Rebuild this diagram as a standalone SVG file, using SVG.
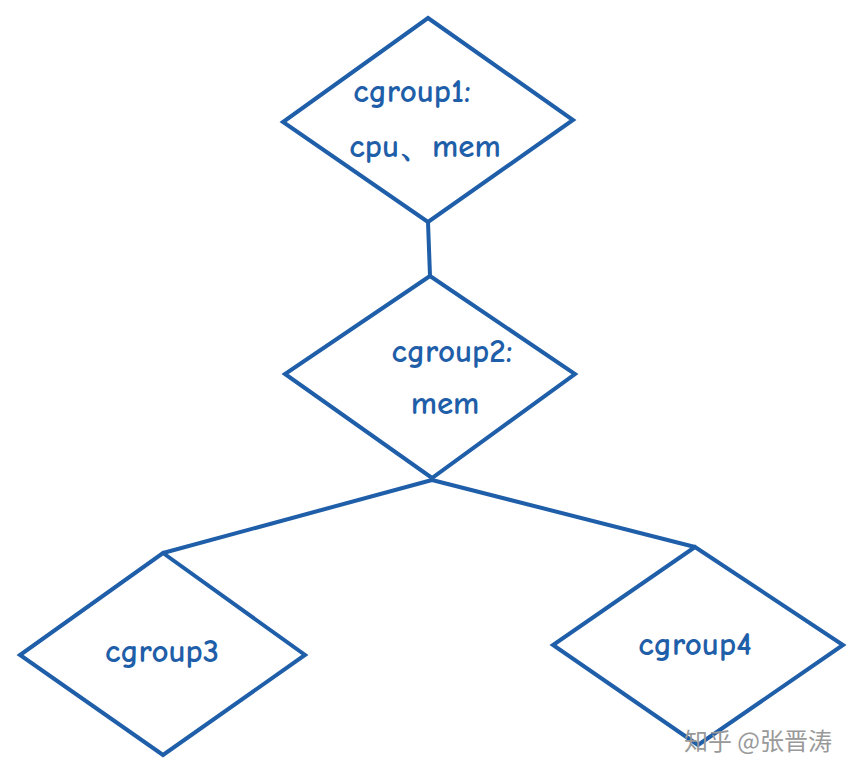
<svg xmlns="http://www.w3.org/2000/svg" width="861" height="777" viewBox="0 0 861 777">
<style>
.n{fill:none;stroke:#1f5ea8;stroke-width:4;stroke-linejoin:miter}
.t{fill:#1f5ea8;font-family:"Comic Neue","Liberation Sans",sans-serif;font-size:33px;font-weight:bold;text-anchor:middle}
.c{stroke:#1f5ea8;stroke-width:4;fill:none}
</style>
<rect width="861" height="777" fill="#fff"/>
<g id="connectors">
<line class="c" x1="428" y1="222" x2="430" y2="276"/>
<line class="c" x1="432" y1="480" x2="163" y2="553"/>
<line class="c" x1="432" y1="480" x2="695" y2="547"/>
</g>
<g id="cgroup1"><polygon class="n" points="428,18 573,120 428,222 283,122"/>
<text class="t" x="412" y="102">cgroup1:</text><text class="t" x="425" y="157">cpu、mem</text></g>
<g id="cgroup2"><polygon class="n" points="430,276 575,374 432,478 285,374"/>
<text class="t" x="452" y="362">cgroup2:</text><text class="t" x="445" y="414">mem</text></g>
<g id="cgroup3"><polygon class="n" points="163,553 305,655 163,755 20,655"/>
<text class="t" x="162" y="662">cgroup3</text></g>
<g id="cgroup4"><polygon class="n" points="695,547 843,645 698,745 553,645"/>
<text class="t" x="695" y="655">cgroup4</text></g>
<text x="758" y="750" font-family="'Noto Sans CJK SC',sans-serif" font-size="24" fill="#999" text-anchor="middle">知乎 @张晋涛</text>
</svg>
